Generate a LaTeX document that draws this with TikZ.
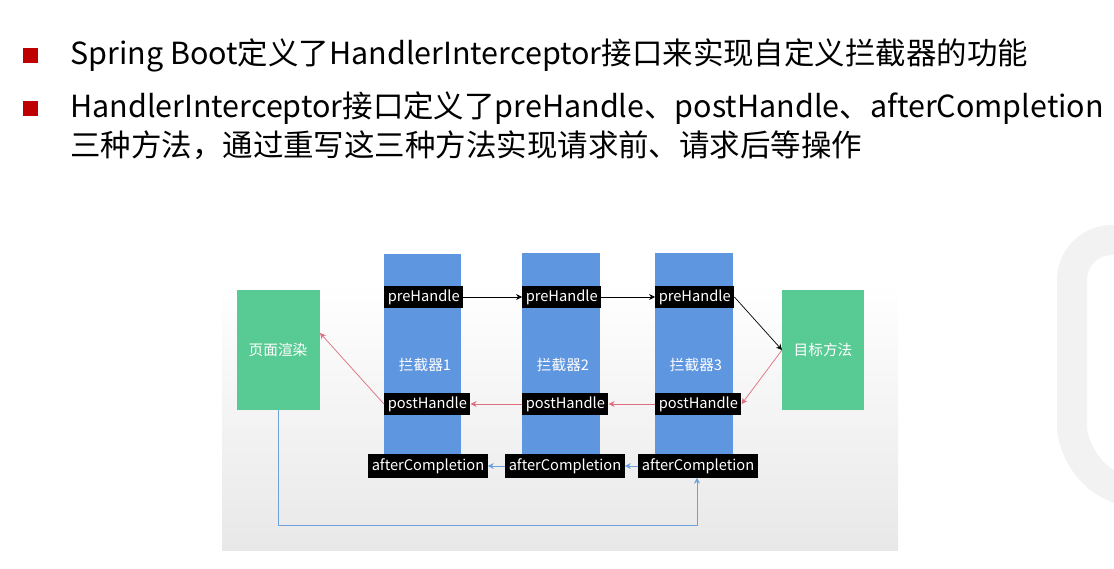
\documentclass[tikz,border=0pt]{standalone}
\usepackage{fontspec}
\setmainfont{Noto Sans CJK SC}
\usetikzlibrary{positioning,arrows.meta}
\definecolor{colblue}{RGB}{95,150,224}
\definecolor{panegreen}{RGB}{88,202,148}
\definecolor{redline}{RGB}{220,110,125}
\definecolor{blueline}{RGB}{110,160,220}
\tikzset{
  col/.style={fill=colblue, draw=none},
  pane/.style={fill=panegreen, draw=none},
  tag/.style={fill=black, text=white, inner xsep=3pt, minimum height=22*0.03cm, font=\fontsize{12.5}{14}\selectfont},
  wlabel/.style={text=white, font=\fontsize{12.5}{14}\selectfont},
  link/.style={-{Stealth[length=5pt,width=5pt]}, line width=0.6pt},
}
\begin{document}
\begin{tikzpicture}[x=0.03cm, y=-0.03cm]
\useasboundingbox (0,0) rectangle (1114,569);

% logo
\draw[gray!10, line width=0.9cm, rounded corners=1.2cm] (1130,240) -- (1072,240) -- (1072,465) -- (1130,495);

% bullets
\fill[red!75!black] (23,48) rectangle (38,63);
\fill[red!75!black] (23,101) rectangle (38,116);
\node[anchor=west, inner sep=0pt, font=\fontsize{26}{30}\selectfont] at (70,55) {Spring Boot定义了HandlerInterceptor接口来实现自定义拦截器的功能};
\node[anchor=west, inner sep=0pt, font=\fontsize{26}{30}\selectfont] at (70,108) {HandlerInterceptor接口定义了preHandle、postHandle、afterCompletion};
\node[anchor=west, inner sep=0pt, font=\fontsize{26}{30}\selectfont] at (70,145) {三种方法，通过重写这三种方法实现请求前、请求后等操作};

% background
\shade[top color=white, bottom color=gray!18] (222,283) rectangle (898,550);

% columns and panes
\fill[col] (384,254) rectangle (461,478);
\fill[col] (522,253) rectangle (600,470);
\fill[col] (655,253) rectangle (733,470);
\fill[pane] (237,290) rectangle (320,410);
\fill[pane] (782,290) rectangle (864,410);
\node[wlabel] (view) at (278,350) {页面渲染};
\node[wlabel] (target) at (823,350) {目标方法};
\node[wlabel] at (425,365) {拦截器1};
\node[wlabel] at (563,365) {拦截器2};
\node[wlabel] at (696,365) {拦截器3};
\coordinate (viewE) at (320,333);
\coordinate (viewS) at (278,410);
\coordinate (targetW) at (782,350);

% tags
\node[tag, anchor=west] (pre1) at (384,297) {preHandle};
\node[tag, anchor=west] (pre2) at (522,297) {preHandle};
\node[tag, anchor=west] (pre3) at (655,297) {preHandle};
\node[tag, anchor=west] (post1) at (384,404) {postHandle};
\node[tag, anchor=west] (post2) at (522,404) {postHandle};
\node[tag, anchor=west] (post3) at (655,404) {postHandle};
\node[tag, anchor=west] (aft1) at (368,466) {afterCompletion};
\node[tag, anchor=west] (aft2) at (505,466) {afterCompletion};
\node[tag, anchor=west] (aft3) at (638,466) {afterCompletion};

% connectors
\draw[link] (pre1) -- (pre2);
\draw[link] (pre2) -- (pre3);
\draw[link] (pre3.east) -- (targetW);
\draw[link, redline] (targetW) -- (post3.east);
\draw[link, redline] (post3) -- (post2);
\draw[link, redline] (post2) -- (post1);
\draw[link, redline] (post1.west) -- (viewE);
\draw[link, blueline] (aft3) -- (aft2);
\draw[link, blueline] (aft2) -- (aft1);
\draw[link, blueline] (viewS) |- (697,525) -- (aft3.south -| 697,0);
\end{tikzpicture}
\end{document}
